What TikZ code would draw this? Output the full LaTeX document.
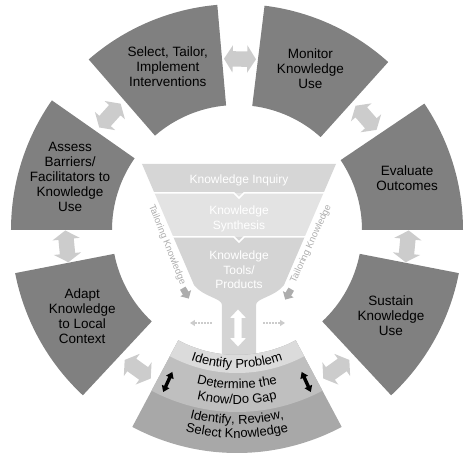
\documentclass[tikz,border=0pt]{standalone}
\usepackage{fontspec}
\setmainfont{Liberation Sans}
\usetikzlibrary{shapes.arrows,arrows.meta,decorations.text}

\definecolor{segment}{gray}{0.5}
\definecolor{gapgray}{gray}{0.80}
\definecolor{funnelA}{gray}{0.84}
\definecolor{funnelB}{gray}{0.89}
\definecolor{funnelC}{gray}{0.83}
\definecolor{bandA}{gray}{0.86}
\definecolor{bandB}{gray}{0.75}
\definecolor{bandC}{gray}{0.66}
\definecolor{tailor}{gray}{0.68}

\newcommand\bandfont{\fontsize{13}{15}\selectfont}

\begin{document}
\begin{tikzpicture}[x=1pt,y=1pt,
    seg/.style={fill=segment},
    segtext/.style={align=center,font=\fontsize{13.5}{15}\selectfont},
    funneltext/.style={align=center,text=white,font=\fontsize{12}{14.5}\selectfont},
    tailortext/.style={text=tailor,font=\fontsize{9.5}{11}\selectfont,inner sep=0pt},
    gaparrow/.style={double arrow,fill=gapgray,inner xsep=0pt,inner ysep=7.5pt,minimum height=32pt,
      double arrow head extend=6pt,double arrow tip angle=115},
    gaparrowsmall/.style={double arrow,fill=black,inner xsep=0pt,inner ysep=1.5pt,minimum height=22pt,
      double arrow head extend=2.5pt,double arrow tip angle=70},
    stemarrow/.style={double arrow,fill=white,inner xsep=0pt,inner ysep=3.5pt,minimum height=37pt,
      double arrow head extend=4pt,double arrow tip angle=86},
    tailorarrow/.style={single arrow,fill=tailor,inner xsep=0pt,inner ysep=3pt,minimum height=12pt,
      single arrow head extend=3pt},
    fade/.style={gapgray,line width=2pt,densely dotted,-{Triangle[length=5pt,width=6pt]}},
    curved/.style={decorate,decoration={text along path,text align=center,text={|\bandfont|#1}}}
  ]
  % \draw[help lines,step=20pt](-237,-230) grid (237,230);
  \useasboundingbox (-237,-230) rectangle (237,230);

  % outer action cycle
  \foreach \a/\b in {0/34,48/83,95/131,145/180,191/227,313/349}
    \fill[seg] (\a:125) arc[start angle=\a,end angle=\b,radius=125]
      -- (\b:226) arc[start angle=\b,end angle=\a,radius=226] -- cycle;

  \node[segtext] (evaluate) at (17:178) {Evaluate\\Outcomes};
  \node[segtext] (monitor) at (65.5:177) {Monitor\\Knowledge\\Use};
  \node[segtext] (select) at (113:177) {Select, Tailor,\\Implement\\Interventions};
  \node[segtext] (assess) at (162.5:175) {Assess\\Barriers/\\Facilitators to\\Knowledge\\Use};
  \node[segtext] (adapt) at (209:177) {Adapt\\Knowledge\\to Local\\Context};
  \node[segtext] (sustain) at (331:176) {Sustain\\Knowledge\\Use};

  \foreach \a [count=\i] in {41,89,138,185.5,234.5,305.5,354.5}
    \node[gaparrow,rotate=\a+90] (gap\i) at (\a:171) {};

  % knowledge creation funnel
  \begin{scope}
    \clip (-95,66) -- (99,66) -- (47,-55) .. controls (38,-67) and (19,-68) .. (19,-75)
      -- (19,-126) -- (-15,-126) -- (-15,-75) .. controls (-15,-68) and (-34,-67) .. (-43,-55) -- cycle;
    \fill[funnelA] (-120,37) rectangle (120,70);
    \fill[funnelB] (-120,-7) rectangle (120,37);
    \fill[funnelC] (-120,-130) rectangle (120,-7);
  \end{scope}
  \draw[white,line width=1.5pt] (-100,37) -- (-3,37) -- (2,32) -- (7,37) -- (104,37);
  \draw[white,line width=1.5pt] (-100,-7) -- (-3,-7) -- (2,-12) -- (7,-7) -- (104,-7);

  \node[funneltext] (inquiry) at (2,50) {Knowledge Inquiry};
  \node[funneltext] (synthesis) at (2,11) {Knowledge\\Synthesis};
  \node[funneltext] (tools) at (2,-40) {Knowledge\\Tools/\\Products};

  \node[tailortext,rotate=-68] (tailorleft) at (-70,-15) {Tailoring Knowledge};
  \node[tailortext,rotate=65] (tailorright) at (74,-14) {Tailoring Knowledge};
  \node[tailorarrow,rotate=-60] (tipleft) at (-52,-62) {};
  \node[tailorarrow,rotate=240] (tipright) at (52,-63) {};

  \node[stemarrow,rotate=90] (stem) at (1,-98) {};
  \coordinate (fl1) at (-25,-93);
  \coordinate (fl2) at (-47,-93);
  \coordinate (fr1) at (26,-93);
  \coordinate (fr2) at (48,-93);
  \draw[fade] (fl1) -- (fl2);
  \draw[fade] (fr1) -- (fr2);

  % problem identification
  \fill[bandC] (242:125) arc[start angle=242,end angle=298,radius=125]
    -- (298:223) arc[start angle=298,end angle=242,radius=223] -- cycle;
  \fill[bandB] (242:125) arc[start angle=242,end angle=298,radius=125]
    -- (298:182) arc[start angle=298,end angle=242,radius=182] -- cycle;
  \fill[bandA] (242:125) arc[start angle=242,end angle=298,radius=125]
    -- (298:143) arc[start angle=298,end angle=242,radius=143] -- cycle;

  \path[curved={Identify Problem}] (245:138) arc[start angle=245,end angle=295,radius=138];
  \path[curved={Determine the}] (245:159) arc[start angle=245,end angle=295,radius=159];
  \path[curved={Know/Do Gap}] (245:174) arc[start angle=245,end angle=295,radius=174];
  \path[curved={Identify, Review,}] (245:194) arc[start angle=245,end angle=295,radius=194];
  \path[curved={Select Knowledge}] (245:208) arc[start angle=245,end angle=295,radius=208];

  \node[gaparrowsmall,rotate=245.5] (gapleft) at (245.5:167) {};
  \node[gaparrowsmall,rotate=294.5] (gapright) at (294.5:167) {};
\end{tikzpicture}
\end{document}
